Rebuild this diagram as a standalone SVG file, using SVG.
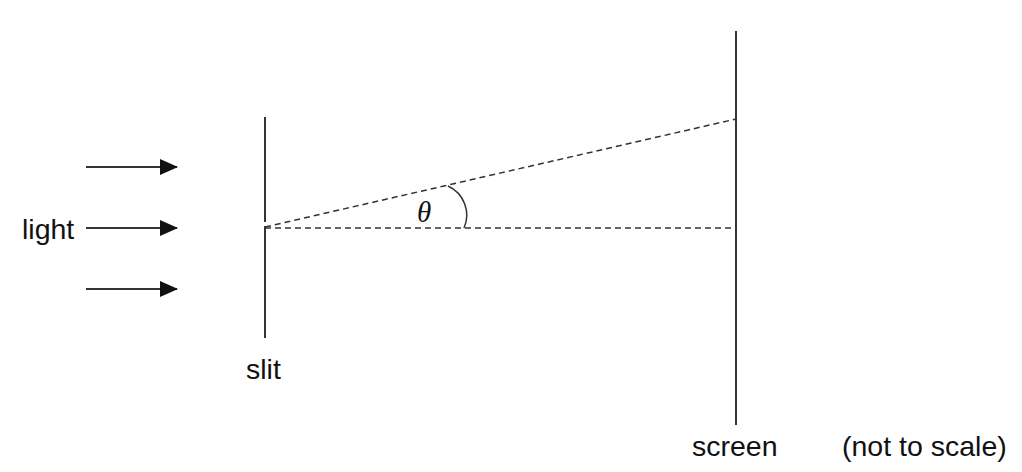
<svg xmlns="http://www.w3.org/2000/svg" width="1022" height="472" viewBox="0 0 1022 472">
<style>
.ln{stroke:#333;stroke-width:2;fill:none}
.ds{stroke:#333;stroke-width:1.5;fill:none;stroke-dasharray:6 4}
.t{font-family:"Liberation Sans",Arial,sans-serif;font-size:28.5px;fill:#111}
</style>
<defs>
<marker id="ah" markerWidth="18" markerHeight="16" refX="17" refY="8" orient="auto" markerUnits="userSpaceOnUse">
<path d="M0,0 L18,8 L0,16 Z" fill="#111"/>
</marker>
</defs>
<rect width="1022" height="472" fill="#fff"/>
<g id="connectors">
<line class="ln" x1="86" y1="167" x2="177" y2="167" marker-end="url(#ah)"/>
<line class="ln" x1="86" y1="228" x2="177" y2="228" marker-end="url(#ah)"/>
<line class="ln" x1="86" y1="289" x2="177" y2="289" marker-end="url(#ah)"/>
<line class="ds" x1="265" y1="228" x2="736" y2="228"/>
<line class="ds" x1="265" y1="227" x2="736" y2="119"/>
<path class="ln" style="stroke-width:1.5" d="M448,186 A32,32 0 0 1 464,228"/>
</g>
<g id="light"><text class="t" x="22" y="239">light</text></g>
<g id="slit">
<line class="ln" x1="265" y1="117" x2="265" y2="222"/>
<line class="ln" x1="265" y1="226" x2="265" y2="338"/>
<text class="t" x="246" y="379">slit</text>
</g>
<g id="screen">
<line class="ln" x1="736" y1="31" x2="736" y2="425"/>
<text class="t" x="692" y="456">screen</text>
</g>
<g id="theta"><text x="417" y="222" style="font-family:'Liberation Serif','Times New Roman',serif;font-style:italic;font-size:29px;fill:#111">θ</text></g>
<g id="note"><text class="t" x="842" y="456">(not to scale)</text></g>
</svg>
